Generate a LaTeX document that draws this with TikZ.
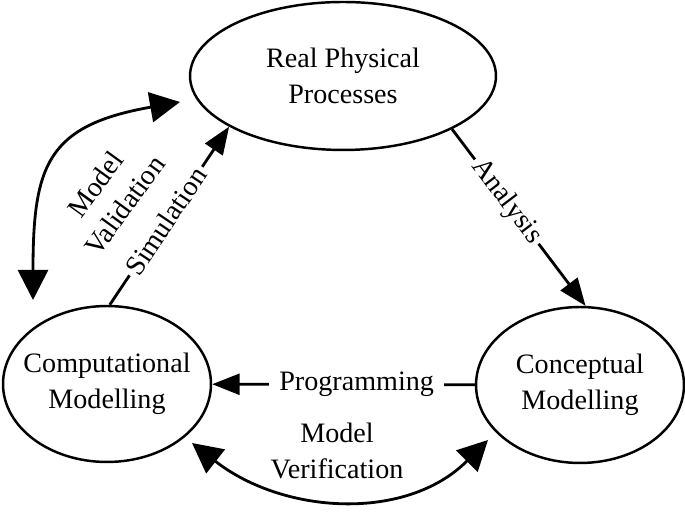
\documentclass[tikz,border=0pt]{standalone}
\usepackage{fontspec}
\setmainfont{Liberation Serif}
\usetikzlibrary{shapes.geometric,arrows.meta}
\begin{document}
\begin{tikzpicture}[x=0.02cm,y=0.02cm,
  font=\fontsize{16}{20.5}\selectfont,
  stage/.style={draw, ellipse, line width=1.4pt, inner xsep=-0.3cm, align=center},
  flow/.style={line width=1.6pt, -{Triangle[length=0.55cm,width=0.42cm]}},
  check/.style={line width=1.6pt, {Triangle[length=0.6cm,width=0.6cm]}-{Triangle[length=0.6cm,width=0.6cm]}},
  tag/.style={fill=white, sloped, inner sep=2pt}]
\useasboundingbox (0,0) rectangle (685,519);
\node[stage, minimum width=6.12cm, minimum height=2.96cm] (real) at (343,443) {Real Physical\\Processes};
\node[stage, minimum width=4.16cm, minimum height=3.12cm] (comp) at (107,135) {Computational\\Modelling};
\node[stage, minimum width=4.16cm, minimum height=3.12cm] (conc) at (580,134) {Conceptual\\Modelling};
\coordinate (valbot) at (33,219);
\coordinate (valtop) at (180,417);
\coordinate (verleft) at (192,76);
\coordinate (verright) at (488,79);
\draw[flow] (real.-26) -- node[tag, pos=0.41] {Analysis} (conc.86);
\draw[flow] (conc) -- node[fill=white, inner xsep=0.2cm, pos=0.45] {Programming} (comp);
\draw[flow] (comp.88) -- node[tag, pos=0.47] {Simulation} (real.204);
\draw[check] (valbot) to[out=90, in=190, looseness=1.4] (valtop);
\draw[check] (verleft) to[out=-38, in=-135] (verright);
\node[align=center, rotate=54] (valtxt) at (110,324) {Model\\Validation};
\node[align=center] (vertxt) at (337,68) {Model\\Verification};
\end{tikzpicture}
\end{document}
